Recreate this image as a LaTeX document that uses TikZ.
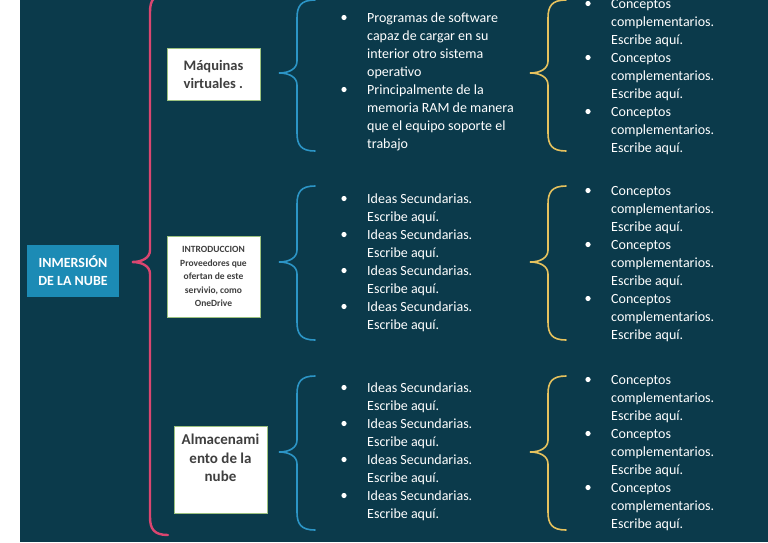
\documentclass[tikz,border=0pt]{standalone}
\usepackage{fontspec}
\setmainfont{Carlito}
\definecolor{bgc}{HTML}{0B3A4B}
\definecolor{rootc}{HTML}{1C8BB5}
\definecolor{pinkc}{HTML}{DA4670}
\definecolor{bluec}{HTML}{2C95C6}
\definecolor{yelc}{HTML}{E6C25E}
\definecolor{boxb}{HTML}{9CC17F}
\definecolor{txtc}{HTML}{3F3F3F}
\newcommand{\mybrace}[6]{%
 \draw[#5,line width=#6,line cap=round] (#1+18,#2) .. controls (#1+4,#2) and (#1,#2+6) .. (#1,#2+18) -- (#1,#3-12) .. controls (#1,#3-4) and (#1-8,#3) .. (#1-18,#3) .. controls (#1-8,#3) and (#1,#3+4) .. (#1,#3+12) -- (#1,#4-18) .. controls (#1,#4-6) and (#1+4,#4) .. (#1+18,#4);}
\tikzset{
 txt/.style={anchor=north west,align=left,text=white,inner sep=0pt,font=\fontsize{14}{18}\selectfont},
 bx/.style={draw=boxb,fill=white,line width=0.8pt,text=txtc,font=\bfseries},
}
\newcommand{\bul}[2]{\fill[white] (#1,#2-4.5) circle (2.6);}
\newcommand{\itm}[3]{\bul{#1-23}{#2}\node[txt] at (#1,#2-9) {#3};}
\begin{document}
\begin{tikzpicture}[x=1pt,y=-1pt]
\useasboundingbox (0,0) rectangle (768,542);
\fill[white] (0,0) rectangle (768,542);
\fill[bgc] (20,0) rectangle (768,542);
% root
\node[fill=rootc,minimum width=92pt,minimum height=52pt,text=white,font=\fontsize{14}{18}\selectfont\bfseries,align=center,inner sep=0pt] (root) at (73,271) {INMERSIÓN\\DE LA NUBE};
\mybrace{150}{-6}{262}{535}{pinkc}{2.4pt}
% boxes
\node[bx,minimum width=93pt,minimum height=52pt,align=left,font=\fontsize{14.5}{18}\selectfont\bfseries,inner sep=0pt] (b1) at (213.5,74) {Máquinas\\virtuales .};
\node[bx,minimum width=93pt,minimum height=81pt,align=center,font=\fontsize{9.5}{13.5}\selectfont\bfseries,inner sep=0pt] (b2) at (213.5,276.5) {INTRODUCCION\\Proveedores que\\ofertan de este\\servivio, como\\OneDrive};
\node[bx,minimum width=93pt,minimum height=87pt,inner sep=0pt] (b3) at (220.5,469.5) {};
\node[text=txtc,align=center,font=\fontsize{15}{18.5}\selectfont\bfseries,anchor=north,inner sep=0pt] (b3t) at (220.5,434) {Almacenami\\ento de la\\nube};
% blue braces
\mybrace{297}{0}{73}{151}{bluec}{1.6pt}
\mybrace{297}{186}{262}{340}{bluec}{1.6pt}
\mybrace{297}{376}{452}{530}{bluec}{1.6pt}
% yellow braces
\mybrace{548}{0}{73}{151}{yelc}{1.6pt}
\mybrace{548}{186}{262}{340}{yelc}{1.6pt}
\mybrace{548}{376}{452}{530}{yelc}{1.6pt}
% group1 middle
\itm{367}{22}{Programas de software\\capaz de cargar en su\\interior otro sistema\\operativo}
\itm{367}{94}{Principalmente de la\\memoria RAM de manera\\que el equipo soporte el\\trabajo}
% groups 2,3 middle
\foreach \y in {203,239,275,311,392,428,464,500}{
 \itm{367}{\y}{Ideas Secundarias.\\Escribe aquí.}}
% right
\foreach \y in {8,62,116,195,249,303,384,438,492}{
 \itm{611}{\y}{Conceptos\\complementarios.\\Escribe aquí.}}
\end{tikzpicture}
\end{document}
